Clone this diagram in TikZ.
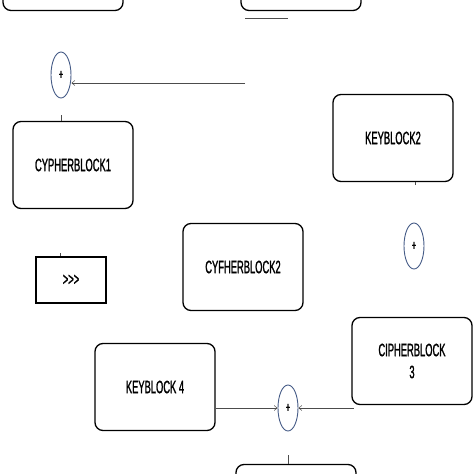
\documentclass[tikz,border=0pt]{standalone}
\usepackage{fontspec}
\newfontfamily\narrowfont[FakeStretch=0.52,FakeBold=1.2]{Liberation Sans}
\usetikzlibrary{positioning, shapes.geometric, arrows.meta}
\definecolor{xorblue}{RGB}{70,92,135}

\tikzset{
  block/.style={draw, line width=1.3pt, rounded corners=8pt,
    minimum width=120pt, minimum height=87pt, align=center,
    font=\narrowfont\fontsize{18}{20}\selectfont},
  xorop/.style={ellipse, draw=xorblue, line width=0.9pt,
    minimum width=20pt, minimum height=46pt, inner sep=0pt,
    font=\narrowfont\fontsize{14}{14}\selectfont},
  shiftbox/.style={draw, line width=1.3pt, minimum width=70pt,
    minimum height=46pt, font=\narrowfont\fontsize{18}{18}\selectfont},
  link/.style={draw=black!70, line width=0.5pt},
  tip/.style={-{Straight Barb[length=3pt,width=5pt]}}
}

\begin{document}
\begin{tikzpicture}[x=1pt,y=-1pt]
\useasboundingbox (0,0) rectangle (474,474);
\clip (0,0) rectangle (474,474);

% upper blocks, cut off by the page
\node[block] (topleft) at (63,-33) {};
\node[block] (topright) at (301,-33) {};
\coordinate (ul1) at (245,18);
\coordinate (ul2) at (288,18);
\draw[link, line width=1pt] (ul1) -- (ul2);

% first xor
\node[xorop] (xor1) at (61,75) {+};
\coordinate (feed1) at (245,83);
\draw[link, tip] (feed1) -- (xor1.east |- feed1);

\node[block] (cb1) at (73,165) {CYPHERBLOCK1};
\coordinate (t1) at (61,115);
\draw[link] (t1) -- (t1 |- cb1.north);

\node[block] (kb2) at (393,138) {KEYBLOCK2};
\coordinate (t2) at (415,185);
\draw[link] (t2) -- (t2 |- kb2.south);

% second xor
\node[xorop] (xor2) at (414,246) {+};

\node[shiftbox] (rot) at (71,280) {>>>};
\coordinate (t3) at (60,253);
\draw[link] (t3) -- (t3 |- rot.north);

\node[block] (cb2) at (243,267) {CYFHERBLOCK2};

\node[block] (kb4) at (155,387) {KEYBLOCK 4};
\node[block] (cb3) at (412,361) {CIPHERBLOCK\\[2pt]3};

% third xor
\node[xorop] (xor3) at (288,408) {+};
\draw[link, tip] (kb4.east |- xor3) -- (xor3.west);
\draw[link, tip] (cb3.east |- xor3) ++(-119,0) -- (xor3.east);

% lower block, cut off by the page
\node[block] (bottom) at (296,508) {};
\coordinate (t4) at (288,455);
\draw[link] (t4) -- (t4 |- bottom.north);
\end{tikzpicture}
\end{document}
